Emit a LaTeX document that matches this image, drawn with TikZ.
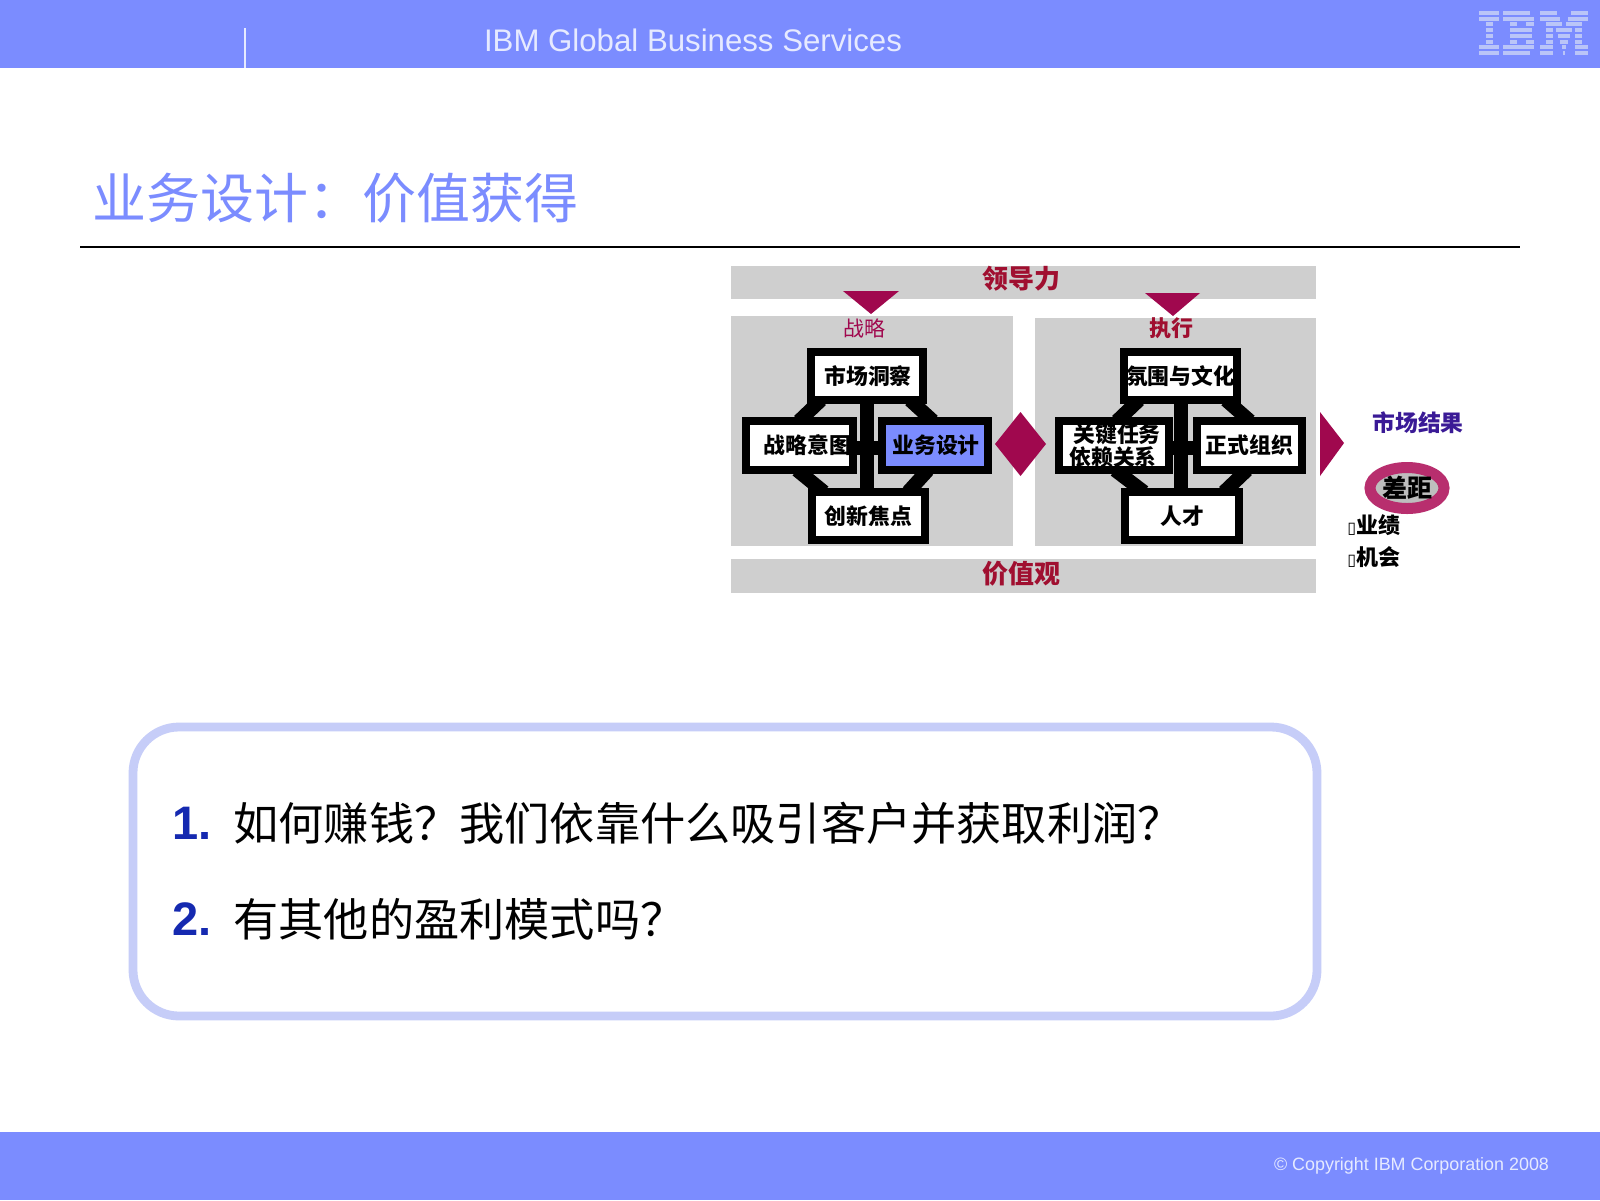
\documentclass[tikz,border=0pt]{standalone}
\usepackage{fontspec}
\setmainfont{Liberation Sans}
\newfontfamily\cjk{Noto Sans CJK SC}
\newfontfamily\symf{DejaVu Sans}
\usetikzlibrary{calc,shapes.geometric}
\definecolor{ibmblue}{HTML}{7B8CFF}
\definecolor{panelgrey}{HTML}{CFCFCF}
\definecolor{maroon}{HTML}{A0084E}
\definecolor{darkred}{HTML}{A00F30}
\definecolor{indigo}{HTML}{3A1A96}
\definecolor{softblue}{HTML}{C6CDF8}
\definecolor{numblue}{HTML}{1529B0}
\definecolor{pale}{HTML}{E6EAFF}
\definecolor{logo}{HTML}{BAC5F8}
\pgfdeclarelayer{panel}
\pgfdeclarelayer{conn}
\pgfsetlayers{panel,conn,main}
\tikzset{
  panelbox/.style={fill=panelgrey,draw=none},
  boxnode/.style={draw=black,line width=4pt,fill=white,inner sep=0pt,align=center,
    font=\cjk\bfseries\fontsize{10.9}{10.5}\selectfont},
  conn/.style={draw=black,line width=7pt},
  headlabel/.style={inner sep=0pt,text=darkred,font=\cjk\bfseries\fontsize{13}{13}\selectfont},
  tipmark/.style={fill=maroon,draw=none},
  qline/.style={inner sep=0pt,anchor=west,text=black,font=\cjk\fontsize{22.6}{24}\selectfont},
  qnum/.style={inner sep=0pt,anchor=west,text=numblue,font=\bfseries\fontsize{23.5}{24}\selectfont},
  legendlabel/.style={inner sep=0pt,anchor=west,text=black,font=\cjk\bfseries\fontsize{11}{12}\selectfont},
}
\begin{document}
\begin{tikzpicture}[x=0.5pt,y=-0.5pt]
\useasboundingbox (0,0) rectangle (1600,1200);
\begin{pgfonlayer}{panel}
\fill[white] (0,0) rectangle (1600,1200);
\fill[ibmblue] (0,0) rectangle (1600,68);
\fill[ibmblue] (0,1132) rectangle (1600,1200);
\draw[pale,line width=0.6pt] (245,28) -- (245,68);
\draw[black,line width=0.6pt] (80,247) -- (1520,247);
\fill[panelbox] (731,266) rectangle (1316,299);
\fill[panelbox] (731,316) rectangle (1013,546);
\fill[panelbox] (1035,318) rectangle (1316,546);
\fill[panelbox] (731,559) rectangle (1316,593);
\end{pgfonlayer}
% header, footer
\node[inner sep=0pt,text=pale,font=\fontsize{15.6}{16}\selectfont] (hdr) at (693,40) {IBM Global Business Services};
\node[inner sep=0pt,text=pale,font=\fontsize{8.95}{11}\selectfont] (ftr) at (1411.5,1166) {© Copyright IBM Corporation 2008};
% IBM logo as stripes
\foreach \r/\segs in {
 1/{1479/1499,1503/1530,1540/1557,1571/1588},
 2/{1479/1499,1503/1534,1540/1560,1568/1588},
 3/{1486/1493,1510/1517,1526/1534,1546/1562,1566/1582},
 4/{1486/1493,1510/1532,1546/1553,1556/1572,1575/1582},
 5/{1486/1493,1510/1532,1546/1553,1558/1570,1575/1582},
 6/{1486/1493,1510/1517,1526/1534,1546/1553,1560/1568,1575/1582},
 7/{1479/1499,1503/1534,1540/1553,1562/1566,1575/1588},
 8/{1479/1499,1503/1530,1540/1553,1563/1565,1575/1588}}{
  \foreach \sa/\sb in \segs {
    \fill[logo] (\sa,{11+(\r-1)*5.7}) rectangle (\sb,{11+(\r-1)*5.7+4});
  }
}
% title
\node[inner sep=0pt,anchor=west,text=ibmblue,font=\cjk\fontsize{27}{30}\selectfont] (title) at (92,198) {业务设计：价值获得};
% band labels
\node[headlabel] (lead) at (1021.5,279) {领导力};
\node[headlabel] (vals) at (1021.5,574) {价值观};
\path[tipmark] (843,291) -- (899,291) -- (871,314) -- cycle;
\path[tipmark] (1145,293) -- (1200,293) -- (1173,316) -- cycle;
\node[inner sep=0pt,text=maroon,font=\cjk\fontsize{10.5}{12}\selectfont] (strat) at (864,328) {战略};
\node[headlabel,font=\cjk\bfseries\fontsize{11}{12}\selectfont] (exec) at (1171,328) {执行};
% left cluster
\node[boxnode,minimum width=56pt,minimum height=24pt] (mkt) at (867,376) {\hspace*{1pt}市场洞察};
\node[boxnode,minimum width=53.5pt,minimum height=24.5pt] (lft) at (799.5,445.5) {\hspace*{8pt}战略意图};
\node[boxnode,minimum width=53pt,minimum height=24.5pt,fill=ibmblue] (biz) at (935,445.5) {\hspace*{1pt}业务设计};
\node[boxnode,minimum width=56.5pt,minimum height=24pt] (foc) at (868.5,516) {创新焦点};
% right cluster
\node[boxnode,minimum width=56.5pt,minimum height=24pt] (clim) at (1180.5,376) {氛围与文化};
\node[boxnode,minimum width=55pt,minimum height=24.5pt] (key) at (1114,445.5) {\hspace*{3pt}关键任务\\依赖关系\hspace*{1pt}};
\node[boxnode,minimum width=52.5pt,minimum height=24.5pt] (org) at (1249.5,445.5) {正式组织};
\node[boxnode,minimum width=57pt,minimum height=24pt] (tal) at (1182,516) {人才};
\begin{pgfonlayer}{conn}
\draw[conn] (mkt.south) -- (mkt.south |- foc.north);
\draw[conn] ($(lft.east)+(0,2)$) -- ($(biz.west)+(0,2)$);
\draw[conn] ($(mkt.south west)+(14,-4)$) -- ($(lft.north west)+(57,4)$);
\draw[conn] ($(mkt.south east)+(-17,-4)$) -- ($(biz.north east)+(-59,4)$);
\draw[conn] ($(lft.south west)+(55,-4)$) -- ($(foc.north west)+(16,4)$);
\draw[conn] ($(foc.north east)+(-21,4)$) -- ($(biz.south west)+(50,-4)$);
\draw[conn] (clim.south) -- (clim.south |- tal.north);
\draw[conn] ($(key.east)+(0,2)$) -- ($(org.west)+(0,2)$);
\draw[conn] ($(clim.south west)+(19,-4)$) -- ($(key.north west)+(62,4)$);
\draw[conn] ($(clim.south east)+(-15,-4)$) -- ($(org.north east)+(-56,4)$);
\draw[conn] ($(key.south west)+(60,-4)$) -- ($(tal.north west)+(23,4)$);
\draw[conn] ($(tal.north east)+(-19,4)$) -- ($(org.south west)+(54,-4)$);
\end{pgfonlayer}
% marks between
\path[tipmark] (1020.5,412) -- (1046,444) -- (1020.5,476) -- (995,444) -- cycle;
\path[tipmark] (1320,412) -- (1344,443) -- (1320,476) -- cycle;
% market results
\node[inner sep=0pt,text=indigo,font=\cjk\bfseries\fontsize{11.4}{12}\selectfont] (res) at (1418,423) {市场结果};
\node[ellipse,draw={rgb,255:red,184;green,46;blue,110},fill={rgb,255:red,190;green,190;blue,190},line width=5.5pt,inner sep=0pt,minimum width=37pt,minimum height=20.5pt,font=\cjk\bfseries\fontsize{12.5}{14}\selectfont] (gap) at (1407,488) {\raisebox{1pt}{差距}};
\node[legendlabel] (perf) at (1347,525) {{\symf\fontsize{8}{8}\selectfont ▯}业绩};
\node[legendlabel] (opp) at (1347,557) {{\symf\fontsize{8}{8}\selectfont ▯}机会};
% question box
\node[draw=softblue,line width=4.4pt,rounded corners=23pt,fill=white,minimum width=592pt,minimum height=144.5pt,inner sep=0pt] (qbox) at (725,871.5) {};
\node[qnum] (n1) at (172,823) {1.};
\node[qline] (q1) at (233,823) {如何赚钱？我们依靠什么吸引客户并获取利润？};
\node[qnum] (n2) at (172,919) {2.};
\node[qline] (q2) at (233,919) {有其他的盈利模式吗？};
\end{tikzpicture}
\end{document}
